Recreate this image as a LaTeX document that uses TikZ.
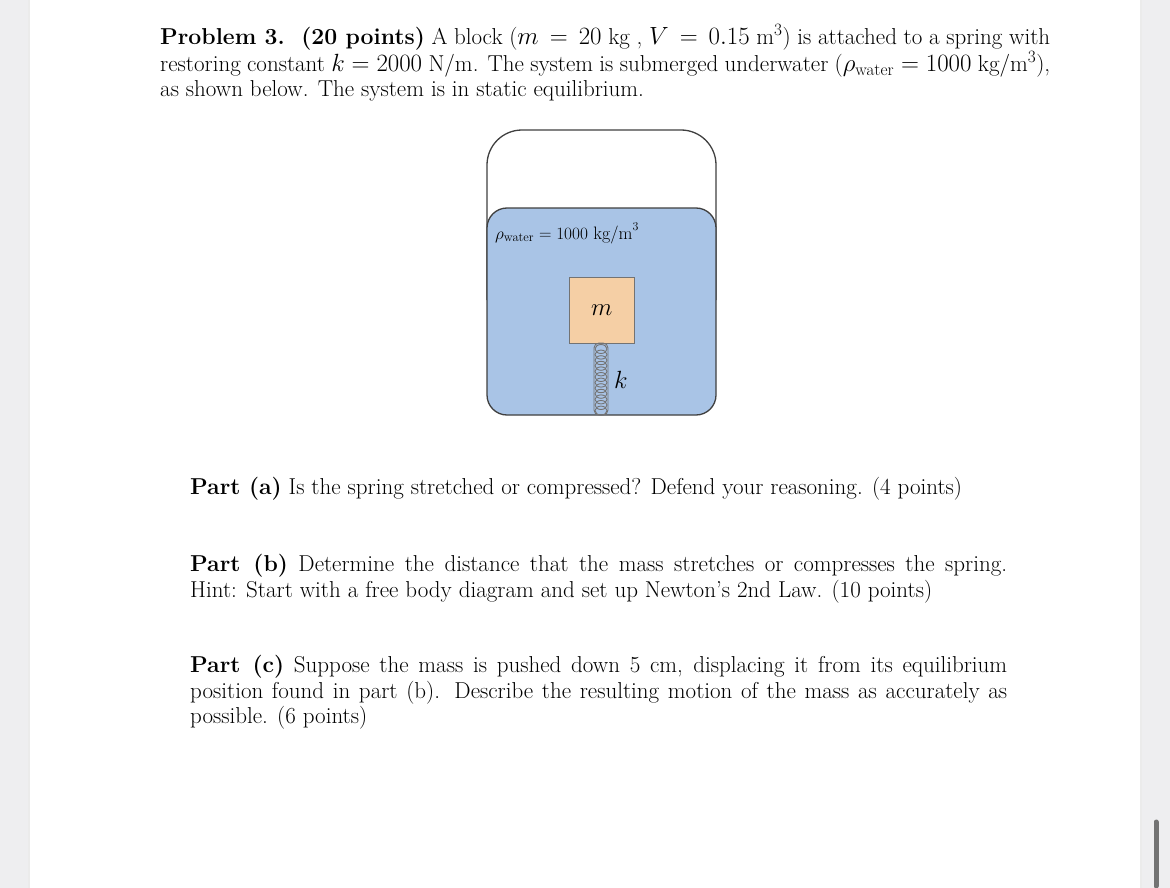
\documentclass[tikz,border=0pt]{standalone}
\usepackage{amsmath}
\usetikzlibrary{shapes.geometric}
\definecolor{pagegray}{HTML}{EEEEF0}
\definecolor{water}{HTML}{A9C4E6}
\definecolor{blockc}{HTML}{F5CFA5}
\begin{document}
\begin{tikzpicture}[x=1pt,y=-1pt,
  para/.style={anchor=north west,inner sep=0pt,align=justify,font=\fontsize{23}{25.6}\selectfont},
  outline/.style={draw=black!75,line width=1.3pt}]
\useasboundingbox (0,0) rectangle (1170,888);
\fill[pagegray] (0,0) rectangle (1170,888);
\fill[black!8] (28,0) rectangle (1142,888);
\fill[white] (30,0) rectangle (1140,888);
\draw[black!55,line width=5pt,line cap=round] (1156,822) -- (1156,886);
% paragraph
\node[para,text width=890pt] (intro) at (160,24) {\textbf{Problem 3.\ \ (20 points)} A block ($m\,=\,20$ kg , $V\,=\,0.15$ m$^3$) is attached to a spring with\linebreak restoring constant $k = 2000$ N/m. The system is submerged underwater ($\rho_{\mathrm{water}}=1000$ kg/m$^3$),\linebreak as shown below. The system is in static equilibrium.};
% container
\draw[outline,rounded corners=35pt] (487,300) -- (487,130) -- (716,130) -- (716,300);
\draw[outline,fill=water,rounded corners=20pt] (487,208) rectangle (716,415);
\node[inner sep=0pt,anchor=base west,font=\fontsize{18}{20}\selectfont] (rho) at (495,239) {$\rho_{\text{water}} = 1000\ \text{kg/m}^3$};
\node[draw=black!55,line width=0.6pt,fill=blockc,minimum width=65pt,minimum height=66pt,inner sep=0pt,anchor=north west,font=\fontsize{24}{26}\selectfont] (m) at (569,277) {$m$};
% spring
\foreach \i in {0,...,11} {
  \draw[black!55,line width=0.9pt] (601,{349+\i*5.6}) ellipse [x radius=6,y radius=4.5];
}
\draw[black!55,line width=0.9pt,rounded corners=5pt] (594,343) rectangle (608,415);
\node[inner sep=0pt,anchor=base west,font=\fontsize{24}{26}\selectfont] (k) at (614,388) {$k$};
% parts
\node[para,text width=817pt] (pa) at (190,477) {\textbf{Part (a)} Is the spring stretched or compressed? Defend your reasoning. (4 points)};
\node[para,text width=817pt] (pb) at (190,554) {\textbf{Part (b)} Determine the distance that the mass stretches or compresses the spring.\linebreak Hint: Start with a free body diagram and set up Newton's 2nd Law. (10 points)};
\node[para,text width=817pt] (pc) at (190,655) {\textbf{Part (c)} Suppose the mass is pushed down 5 cm, displacing it from its equilibrium\linebreak position found in part (b). Describe the resulting motion of the mass as accurately as\linebreak possible. (6 points)};
\end{tikzpicture}
\end{document}
